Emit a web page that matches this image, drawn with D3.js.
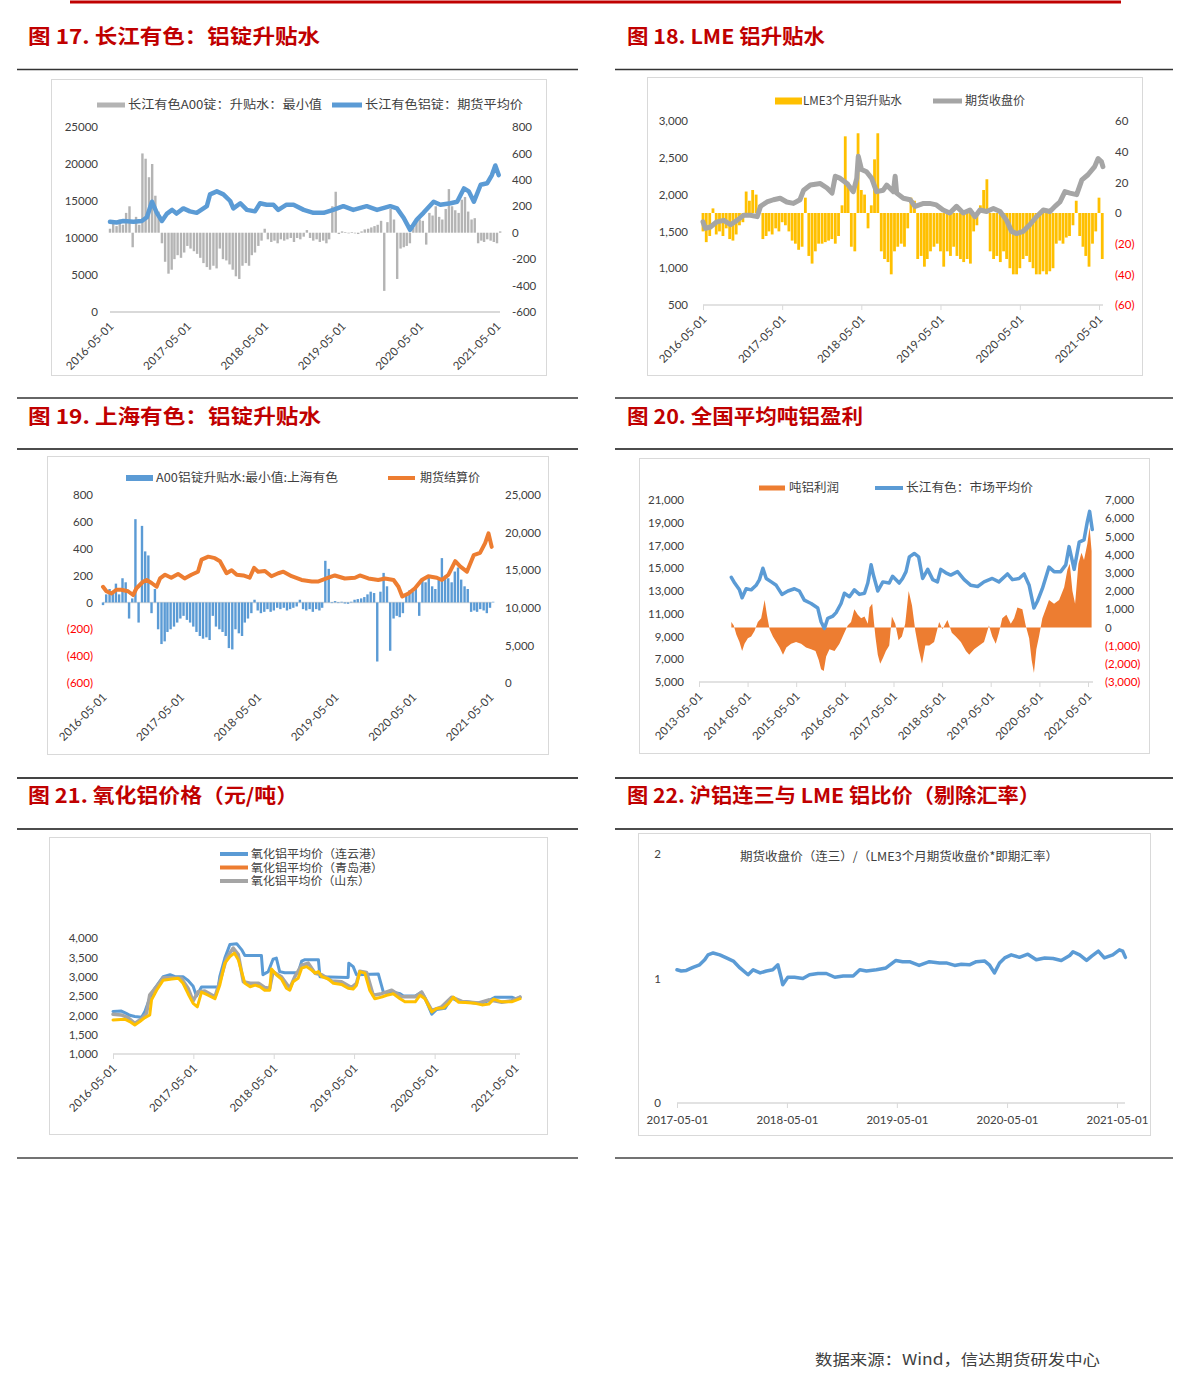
<!DOCTYPE html>
<html>
<head>
<meta charset="utf-8">
<script src="https://cdn.jsdelivr.net/npm/d3@7"></script>
<style>
  body { margin: 0; background: #fff; }
  svg { display: block; }
</style>
</head>
<body>
<svg id="page" width="1191" height="1390"></svg>
<script>
// ---------- data ----------

// 图17: 长江有色 A00 升贴水 (semi-monthly from 2016-05-01) and 期货平均价
const cjPremium17 = [30,80,50,100,60,150,200,-110,120,60,600,560,420,520,280,160,-80,-220,-310,-280,
  -200,-170,-190,-150,-100,-120,-140,-160,-190,-230,-260,-280,-250,-270,-120,-200,-210,-240,-280,-330,
  -350,-250,-230,-250,-170,-150,-100,-60,30,-50,-70,-60,-80,-50,-60,-50,-40,-70,-40,-50,
  -30,20,-40,-60,-50,-70,-60,-80,-50,200,310,-10,10,5,-5,5,-5,-10,10,25,
  30,40,50,60,90,-440,80,180,100,-350,-120,-110,-100,-80,40,80,100,90,-90,150,
  130,200,120,100,180,330,200,170,150,250,270,160,100,110,-80,-60,-70,-50,-60,-70,-80,10];
const cjFutures17 = [
  ["2016-05-01",12200],["2016-06-01",12100],["2016-07-03",12300],["2016-08-20",12200],["2016-09-28",12300],
  ["2016-10-22",12800],["2016-11-15",14900],["2016-12-08",13400],["2017-01-01",12300],["2017-01-25",13300],
  ["2017-02-18",13800],["2017-03-11",13300],["2017-04-12",14000],["2017-05-13",13600],["2017-06-14",13400],
  ["2017-08-01",14300],["2017-08-16",15900],["2017-09-17",16300],["2017-10-18",15900],["2017-11-19",15000],
  ["2017-12-04",14000],["2018-01-06",14700],["2018-02-06",13800],["2018-03-16",13600],["2018-04-09",14700],
  ["2018-05-10",14500],["2018-06-11",14500],["2018-07-04",13800],["2018-08-12",14500],["2018-09-14",14500],
  ["2018-11-01",13800],["2018-12-17",13400],["2019-02-03",13400],["2019-03-20",13800],["2019-05-07",14300],
  ["2019-06-23",13800],["2019-08-25",14300],["2019-10-13",13800],["2019-12-14",14300],["2020-01-15",14000],
  ["2020-02-16",12700],["2020-03-17",11100],["2020-04-18",12500],["2020-05-19",13400],["2020-07-06",14900],
  ["2020-08-07",14500],["2020-09-24",14700],["2020-10-25",14900],["2020-11-26",16700],["2020-12-19",16300],
  ["2021-01-12",14900],["2021-02-13",17200],["2021-03-16",17400],["2021-04-07",18500],["2021-04-23",19800],
  ["2021-05-09",18500]];

// 图18: LME3个月铝升贴水 (semi-monthly from 2016-05-01) and 期货收盘价
const lmePremium18 = [-12,-19,-15,3,-14,-12,-15,-10,-17,-18,-14,-8,-6,14,8,15,12,5,-17,-15,
  -12,-14,-10,-12,-6,-8,-12,-18,-20,-24,-22,10,-28,-33,-25,-20,-20,-19,-18,-17,
  -20,-15,5,50,20,-22,-25,52,15,12,-10,5,35,52,-25,-30,-32,-40,-25,-22,
  -20,-22,-10,10,8,-30,-28,-35,-30,-25,-22,-20,-25,-35,-25,-28,-22,-28,-30,-32,
  -30,-33,-12,-8,5,15,22,-25,-30,-28,-32,-25,-30,-36,-40,-40,-36,-30,-28,-32,
  -36,-40,-40,-38,-40,-38,-36,-20,-18,-20,-16,-15,-8,8,-15,-22,-28,-35,-20,-12,10,-30];
const lmeClose18 = [
  ["2016-05-01",1630],["2016-05-12",1540],["2016-06-04",1560],["2016-07-04",1630],["2016-08-05",1650],
  ["2016-09-05",1590],["2016-10-05",1650],["2016-11-05",1720],["2016-12-06",1720],["2017-01-06",1700],
  ["2017-01-21",1840],["2017-02-20",1900],["2017-03-22",1930],["2017-04-22",1950],["2017-05-22",1900],
  ["2017-06-22",1880],["2017-07-22",1930],["2017-08-08",2060],["2017-09-08",2130],["2017-10-24",2150],
  ["2017-11-24",2090],["2017-12-17",2020],["2018-01-01",2250],["2018-01-24",2220],["2018-02-24",2150],
  ["2018-03-25",2040],["2018-04-10",2220],["2018-04-17",2520],["2018-05-02",2340],["2018-05-25",2310],
  ["2018-06-18",2220],["2018-07-10",2040],["2018-08-10",2060],["2018-08-26",2130],["2018-09-26",2040],
  ["2018-10-04",2250],["2018-10-11",2020],["2018-11-11",1950],["2018-12-12",1930],["2019-01-04",1840],
  ["2019-02-12",1880],["2019-03-12",1880],["2019-04-12",1860],["2019-05-13",1790],["2019-06-13",1750],
  ["2019-07-14",1840],["2019-08-14",1750],["2019-09-14",1790],["2019-10-07",1700],["2019-10-30",1790],
  ["2019-11-30",1770],["2019-12-31",1810],["2020-01-31",1770],["2020-03-01",1650],["2020-03-24",1500],
  ["2020-04-16",1470],["2020-05-16",1500],["2020-06-16",1590],["2020-07-17",1700],["2020-08-17",1790],
  ["2020-09-17",1770],["2020-10-10",1840],["2020-11-02",1900],["2020-11-25",2040],["2020-12-18",2020],
  ["2021-01-18",2000],["2021-02-11",2200],["2021-03-11",2270],["2021-04-11",2380],["2021-04-27",2490],
  ["2021-05-12",2450],["2021-05-19",2380]];

// 图19: A00 升贴水 上海有色 (semi-monthly from 2016-05-01) and 期货结算价
const smmPremium19 = [-20,60,100,80,140,60,180,150,-120,30,620,-150,570,380,350,-80,100,-200,-310,-290,
  -220,-200,-180,-150,-120,-100,-130,-150,-180,-220,-250,-270,-260,-280,-100,-180,-200,-220,-250,-340,
  -350,-200,-230,-250,-150,-120,-80,20,-60,-80,-70,-50,-70,-60,-40,-50,-40,-60,-50,-40,
  -30,20,-50,-60,-50,-70,-50,-60,-40,310,250,-5,10,-5,5,-8,-10,5,20,25,
  30,40,60,80,70,-440,80,220,120,-360,-120,-100,-110,-80,50,90,80,100,-100,170,
  150,200,120,100,180,330,200,180,150,230,260,170,120,100,-70,-60,-70,-50,-60,-80,-40,5];
const shfeSettle19 = [
  ["2016-05-01",12800],["2016-05-17",12200],["2016-06-10",11900],["2016-07-03",12400],["2016-07-26",12400],
  ["2016-08-27",12200],["2016-09-20",11700],["2016-10-06",12600],["2016-11-07",13500],["2016-11-23",13700],
  ["2016-12-16",13300],["2017-01-09",12800],["2017-01-25",13900],["2017-02-18",14400],["2017-03-19",14000],
  ["2017-04-20",14500],["2017-05-21",13900],["2017-06-22",14400],["2017-07-23",14800],["2017-08-09",16400],
  ["2017-09-10",16800],["2017-10-11",16600],["2017-11-04",16200],["2017-12-05",14600],["2017-12-29",15000],
  ["2018-01-22",14400],["2018-02-22",14300],["2018-03-24",14000],["2018-04-14",15300],["2018-05-03",14800],
  ["2018-06-04",14900],["2018-07-05",14200],["2018-08-06",14600],["2018-08-30",14800],["2018-10-08",14200],
  ["2018-11-24",13700],["2019-01-11",13500],["2019-02-12",13500],["2019-03-21",13900],["2019-04-30",14300],
  ["2019-06-16",13900],["2019-08-03",14000],["2019-08-26",14300],["2019-10-05",13900],["2019-11-21",13700],
  ["2019-12-22",13900],["2020-02-01",13700],["2020-02-24",12800],["2020-03-13",11500],["2020-04-11",11900],
  ["2020-05-12",12600],["2020-06-13",13700],["2020-07-14",14200],["2020-08-23",14000],["2020-09-16",13700],
  ["2020-10-17",14400],["2020-11-18",16200],["2020-12-11",15500],["2021-01-12",14800],["2021-02-13",17000],
  ["2021-03-15",17300],["2021-04-08",18600],["2021-04-24",19900],["2021-05-09",18100]];

// 图20: 吨铝利润 and 长江有色市场平均价
const profit20 = [
  ["2013-12-30",300],["2014-01-17",100],["2014-02-06",-400],["2014-03-01",-800],["2014-03-21",-1300],
  ["2014-04-08",-900],["2014-05-03",-600],["2014-05-28",-500],["2014-06-22",-200],["2014-07-17",300],
  ["2014-08-11",500],["2014-09-06",1500],["2014-09-23",700],["2014-10-13",-100],["2014-11-07",-500],
  ["2014-12-02",-800],["2014-12-27",-1100],["2015-01-22",-1500],["2015-02-16",-1100],["2015-03-24",-900],
  ["2015-04-30",-800],["2015-06-07",-900],["2015-07-14",-1100],["2015-08-21",-1200],["2015-09-23",-1300],
  ["2015-10-18",-1800],["2015-11-04",-2300],["2015-11-24",-2400],["2015-12-12",-1600],["2016-01-06",-1200],
  ["2016-02-13",-1300],["2016-03-21",-900],["2016-04-27",-300],["2016-05-22",100],["2016-06-16",300],
  ["2016-07-11",1000],["2016-08-06",700],["2016-08-31",500],["2016-09-25",600],["2016-10-20",200],
  ["2016-11-02",1100],["2016-11-22",1300],["2016-12-01",600],["2016-12-16",-500],["2017-01-03",-1500],
  ["2017-01-21",-2000],["2017-02-10",-1700],["2017-03-05",-1300],["2017-03-30",-1000],["2017-04-19",600],
  ["2017-05-14",200],["2017-06-08",-700],["2017-07-03",-500],["2017-07-28",200],["2017-08-23",2000],
  ["2017-09-17",1200],["2017-10-12",-200],["2017-11-06",-1200],["2017-12-01",-2000],["2017-12-26",-1000],
  ["2018-01-25",-1000],["2018-03-02",-800],["2018-04-09",300],["2018-05-04",-100],["2018-06-10",400],
  ["2018-07-13",-300],["2018-08-12",-500],["2018-09-19",-800],["2018-10-27",-1300],["2018-11-21",-1500],
  ["2018-12-28",-1200],["2019-02-04",-1000],["2019-03-12",-800],["2019-04-18",100],["2019-05-13",-500],
  ["2019-06-08",-900],["2019-07-02",-300],["2019-07-27",500],["2019-08-27",700],["2019-09-29",200],
  ["2019-10-24",500],["2019-11-18",1100],["2019-12-25",1000],["2020-01-19",100],["2020-02-14",-600],
  ["2020-03-04",-1800],["2020-03-21",-2500],["2020-04-08",-1200],["2020-04-28",-500],["2020-05-23",500],
  ["2020-06-17",1000],["2020-07-12",1500],["2020-08-19",1300],["2020-09-26",1500],["2020-11-03",2200],
  ["2020-11-28",3200],["2020-12-15",3500],["2021-01-04",2000],["2021-01-24",1300],["2021-02-18",3500],
  ["2021-03-13",4100],["2021-04-01",3700],["2021-04-26",4600],["2021-05-13",5500],["2021-05-28",4200]];
const cjMarket20 = [
  ["2013-12-30",14200],["2014-01-24",13700],["2014-03-01",13100],["2014-03-21",12400],["2014-04-20",13200],
  ["2014-05-28",13100],["2014-07-04",13500],["2014-07-29",14000],["2014-08-24",15000],["2014-09-18",14100],
  ["2014-10-26",13800],["2014-12-02",13500],["2015-01-14",12700],["2015-02-28",13000],["2015-04-18",13200],
  ["2015-05-25",13000],["2015-07-01",12200],["2015-08-21",11900],["2015-10-10",11500],["2015-11-04",10300],
  ["2015-11-29",9700],["2015-12-24",10600],["2016-02-01",10800],["2016-02-25",11100],["2016-04-02",11900],
  ["2016-04-27",12800],["2016-06-04",12500],["2016-07-11",13100],["2016-08-18",12700],["2016-09-25",12800],
  ["2016-10-20",13700],["2016-11-14",15300],["2016-12-01",14400],["2017-01-03",13000],["2017-02-10",13800],
  ["2017-03-30",13700],["2017-04-24",14300],["2017-06-13",13700],["2017-07-08",14100],["2017-08-03",14700],
  ["2017-08-28",16000],["2017-10-04",16300],["2017-11-06",16000],["2017-12-06",14100],["2018-01-13",14900],
  ["2018-02-20",14000],["2018-03-27",13800],["2018-04-21",14900],["2018-05-29",14600],["2018-07-05",14400],
  ["2018-08-25",14700],["2018-10-14",14000],["2018-12-03",13500],["2019-01-23",13400],["2019-03-12",13800],
  ["2019-05-13",14100],["2019-07-02",13800],["2019-09-04",14500],["2019-10-11",14000],["2019-11-30",14100],
  ["2020-01-07",14500],["2020-02-14",13500],["2020-03-21",11500],["2020-04-16",12100],["2020-05-23",13200],
  ["2020-07-12",15100],["2020-08-19",14700],["2020-10-08",14700],["2020-11-15",15300],["2020-12-10",16900],
  ["2021-01-17",14900],["2021-02-24",17300],["2021-04-01",17500],["2021-04-26",19100],["2021-05-13",20000],
  ["2021-06-02",18400]];

// 图21: 氧化铝平均价
const aluminaLyg21 = [
  ["2016-05-01",2100],["2016-06-08",2110],["2016-06-30",2050],["2016-07-16",2000],["2016-08-08",1970],
  ["2016-09-08",1950],["2016-09-23",2100],["2016-10-15",2450],["2016-11-07",2700],["2016-12-15",3000],
  ["2017-01-15",3050],["2017-02-07",3000],["2017-03-15",3000],["2017-04-07",2900],["2017-04-30",2750],
  ["2017-05-15",2500],["2017-06-07",2730],["2017-08-22",2730],["2017-08-29",3000],["2017-09-21",3480],
  ["2017-10-14",3830],["2017-11-14",3850],["2017-12-06",3700],["2017-12-21",3550],["2018-03-06",3550],
  ["2018-03-13",3050],["2018-04-06",3130],["2018-04-28",3450],["2018-05-13",3480],["2018-05-28",3130],
  ["2018-06-20",3100],["2018-08-20",3100],["2018-09-05",3400],["2018-09-20",3440],["2018-11-20",3440],
  ["2018-11-27",3000],["2019-04-04",2980],["2019-04-07",3350],["2019-04-27",3260],["2019-05-12",3050],
  ["2019-08-19",3070],["2019-09-11",2600],["2019-10-03",2560],["2019-10-26",2600],["2019-11-26",2560],
  ["2019-12-11",2500],["2020-02-03",2500],["2020-03-03",2600],["2020-03-18",2450],["2020-04-18",2030],
  ["2020-05-10",2150],["2020-06-17",2180],["2020-07-17",2450],["2020-08-17",2360],["2020-09-17",2360],
  ["2020-11-01",2320],["2020-12-02",2320],["2021-01-02",2380],["2021-02-01",2470],["2021-04-16",2470],
  ["2021-05-09",2420],["2021-05-24",2470]];
const aluminaQd21 = [
  ["2016-05-01",1880],["2016-06-23",1900],["2016-07-16",1840],["2016-08-08",1750],["2016-08-31",1840],
  ["2016-09-23",1940],["2016-10-15",2010],["2016-10-23",2400],["2016-11-15",2650],["2016-12-15",2910],
  ["2017-01-23",2940],["2017-02-22",2960],["2017-03-15",2830],["2017-04-07",2560],["2017-04-30",2310],
  ["2017-05-19",2220],["2017-06-07",2600],["2017-07-07",2520],["2017-08-07",2430],["2017-08-29",2780],
  ["2017-09-21",3350],["2017-10-14",3520],["2017-11-03",3610],["2017-11-21",3440],["2017-12-06",3130],
  ["2017-12-21",2830],["2018-01-14",2740],["2018-02-06",2780],["2018-02-28",2740],["2018-03-21",2650],
  ["2018-04-13",2650],["2018-04-21",3200],["2018-05-13",3050],["2018-06-05",2940],["2018-06-28",2700],
  ["2018-07-13",2650],["2018-07-28",2870],["2018-08-20",2960],["2018-09-05",3220],["2018-09-27",3260],
  ["2018-10-20",3170],["2018-11-05",3090],["2018-11-20",3130],["2018-12-05",3000],["2019-01-04",2940],
  ["2019-01-27",2830],["2019-03-05",2800],["2019-04-04",2700],["2019-04-27",2680],["2019-05-12",2780],
  ["2019-05-27",3130],["2019-06-19",3090],["2019-07-11",2650],["2019-08-03",2430],["2019-09-03",2470],
  ["2019-09-26",2520],["2019-10-26",2560],["2019-11-26",2430],["2019-12-18",2350],["2020-02-03",2350],
  ["2020-02-25",2520],["2020-03-18",2430],["2020-04-18",2090],["2020-05-10",2180],["2020-06-10",2190],
  ["2020-07-02",2300],["2020-07-25",2470],["2020-08-17",2340],["2020-09-17",2330],["2020-11-01",2310],
  ["2020-12-02",2270],["2021-01-02",2290],["2021-01-24",2420],["2021-03-02",2350],["2021-04-16",2350],
  ["2021-05-24",2430]];
const aluminaSd21 = [
  ["2016-05-01",2030],["2016-06-08",2010],["2016-07-08",1940],["2016-08-08",1790],["2016-09-08",1910],
  ["2016-09-30",2050],["2016-10-15",2530],["2016-11-15",2740],["2016-12-15",2970],["2017-01-23",2970],
  ["2017-03-07",2960],["2017-04-07",2700],["2017-04-30",2370],["2017-05-22",2610],["2017-06-22",2630],
  ["2017-08-07",2480],["2017-08-29",2870],["2017-09-29",3480],["2017-10-29",3740],["2017-11-21",3570],
  ["2017-12-14",2870],["2018-01-14",2830],["2018-02-21",2830],["2018-03-21",2720],["2018-04-13",2700],
  ["2018-04-28",3130],["2018-06-05",3000],["2018-07-13",2700],["2018-08-05",3000],["2018-09-05",3300],
  ["2018-10-05",3350],["2018-11-05",3090],["2018-12-05",3050],["2019-01-20",2890],["2019-03-05",2870],
  ["2019-04-19",2720],["2019-05-12",2830],["2019-05-27",3140],["2019-06-27",3110],["2019-07-27",2520],
  ["2019-09-03",2560],["2019-10-19",2650],["2019-12-03",2480],["2020-02-03",2480],["2020-03-03",2600],
  ["2020-04-18",2130],["2020-06-02",2220],["2020-07-17",2470],["2020-09-02",2360],["2020-11-17",2320],
  ["2021-01-02",2400],["2021-03-02",2340],["2021-04-16",2380],["2021-05-24",2470]];

// 图22: 沪铝连三 / (LME3个月 * 即期汇率)
const ratio22 = [
  ["2017-05-01",1.07],["2017-05-15",1.06],["2017-06-01",1.065],["2017-06-23",1.09],["2017-07-15",1.11],
  ["2017-08-01",1.15],["2017-08-12",1.19],["2017-08-29",1.205],["2017-09-20",1.19],["2017-10-12",1.165],
  ["2017-11-04",1.14],["2017-11-26",1.085],["2017-12-23",1.03],["2018-01-09",1.07],["2018-02-01",1.045],
  ["2018-02-22",1.06],["2018-03-15",1.07],["2018-04-01",1.11],["2018-04-12",1.005],["2018-04-17",0.95],
  ["2018-05-04",1.01],["2018-05-26",1.01],["2018-06-23",1.0],["2018-07-15",1.03],["2018-08-12",1.04],
  ["2018-09-09",1.04],["2018-10-07",1.01],["2018-11-04",1.02],["2018-12-07",1.02],["2018-12-29",1.07],
  ["2019-01-20",1.06],["2019-02-22",1.07],["2019-03-26",1.085],["2019-04-28",1.145],["2019-05-20",1.135],
  ["2019-06-12",1.135],["2019-07-14",1.105],["2019-08-17",1.135],["2019-09-20",1.125],["2019-10-12",1.125],
  ["2019-11-09",1.105],["2019-12-01",1.115],["2019-12-28",1.11],["2020-01-20",1.135],["2020-02-17",1.14],
  ["2020-03-03",1.11],["2020-03-20",1.045],["2020-04-06",1.125],["2020-04-23",1.165],["2020-05-15",1.19],
  ["2020-06-11",1.17],["2020-07-09",1.195],["2020-08-06",1.15],["2020-09-03",1.165],["2020-10-01",1.16],
  ["2020-10-28",1.145],["2020-11-25",1.185],["2020-12-06",1.215],["2020-12-28",1.19],["2021-01-20",1.145],
  ["2021-02-06",1.18],["2021-02-28",1.22],["2021-03-20",1.165],["2021-04-17",1.19],["2021-05-09",1.23],
  ["2021-05-20",1.22],["2021-05-29",1.17]];

// tick labels
const ticks16 = ["2016-05-01","2017-05-01","2018-05-01","2019-05-01","2020-05-01","2021-05-01"];
const ticks13 = ["2013-05-01","2014-05-01","2015-05-01","2016-05-01","2017-05-01","2018-05-01","2019-05-01","2020-05-01","2021-05-01"];
const ticks17 = ["2017-05-01","2018-05-01","2019-05-01","2020-05-01","2021-05-01"];
const left17 = [0,5000,10000,15000,20000,25000];
const right17 = [-600,-400,-200,0,200,400,600,800];
const left18 = [500,1000,1500,2000,2500,3000];
const right18 = [-60,-40,-20,0,20,40,60];
const left19 = [-600,-400,-200,0,200,400,600,800];
const right19 = [0,5000,10000,15000,20000,25000];
const left20 = [5000,7000,9000,11000,13000,15000,17000,19000,21000];
const right20 = [-3000,-2000,-1000,0,1000,2000,3000,4000,5000,6000,7000];
const left21 = [1000,1500,2000,2500,3000,3500,4000];
const left22 = [0,1,2];
const legend21 = ["氧化铝平均价（连云港）", "氧化铝平均价（青岛港）", "氧化铝平均价（山东）"];

// ---------- helpers ----------
const svg = d3.select("#page");
const FONT_NUM = "Lato, 'Open Sans', sans-serif";
const FONT_CJK = "'Noto Sans CJK SC', sans-serif";
const TXT = "#404040";
const BLUE = "#5b9bd5", ORANGE = "#ed7d31", GRAY = "#a5a5a5", YELLOW = "#ffc000";

const parse = d3.timeParse("%Y-%m-%d");
const fmtDate = d3.timeFormat("%Y-%m-%d");
const toPoints = arr => arr.map(([d, v]) => ({ date: parse(d), value: v }));
const start16 = parse("2016-05-01");
// semi-monthly dates (1st and 16th) used by the bar series
const halfMonths = n => d3.range(n).map(i =>
  d3.timeDay.offset(d3.timeMonth.offset(start16, Math.floor(i / 2)), (i % 2) * 15));
const fmtPlain = v => String(v);   // Excel style: plain hyphen for negatives
const fmtComma = d3.format(",");
const fmtParen = v => v < 0 ? `(${fmtComma(-v)})` : fmtComma(v);

function hline(x0, x1, y, color, w) {
  svg.append("line").attr("x1", x0).attr("x2", x1).attr("y1", y).attr("y2", y)
    .attr("stroke", color).attr("stroke-width", w);
}

function frame(x0, y0, x1, y1) {
  svg.append("rect").attr("x", x0 + 0.5).attr("y", y0 + 0.5)
    .attr("width", x1 - x0).attr("height", y1 - y0)
    .attr("fill", "none").attr("stroke", "#d9d9d9");
}

function title(x, y, text, len) {
  svg.append("text").attr("x", x).attr("y", y)
    .attr("font-family", FONT_CJK).attr("font-weight", 700).attr("font-size", 20)
    .attr("fill", "#c00000").attr("textLength", len).attr("lengthAdjust", "spacingAndGlyphs")
    .text(text);
}

function label(x, y, text, len, size = 12, anchor = "start") {
  svg.append("text").attr("x", x).attr("y", y).attr("dy", "0.36em")
    .attr("font-family", FONT_CJK).attr("font-size", size).attr("fill", TXT)
    .attr("text-anchor", anchor)
    .attr("textLength", len).attr("lengthAdjust", "spacingAndGlyphs").text(text);
}

function swatch(kind, x0, x1, y, color, thick) {
  if (kind === "rect") {
    svg.append("rect").attr("x", x0).attr("y", y - thick / 2).attr("width", x1 - x0)
      .attr("height", thick).attr("fill", color);
  } else {
    hline(x0, x1, y, color, thick);
  }
}

function yLabels(scale, values, xPos, side, fmt, redNeg) {
  const axis = side === "left" ? d3.axisLeft(scale) : d3.axisRight(scale);
  const g = svg.append("g").attr("transform", `translate(${xPos},0)`)
    .call(axis.tickValues(values).tickFormat(fmt).tickSize(0).tickPadding(0));
  g.select(".domain").remove();
  g.attr("font-family", FONT_NUM).attr("font-size", 11.5);
  g.selectAll("text").attr("fill", d => redNeg && d < 0 ? "#ff0000" : TXT);
}

function xAxisRotated(x, tickDates, axisY, lineEnd, tickLen, lineW = 1) {
  if (lineW > 0) hline(x.range()[0], lineEnd, axisY, "#d9d9d9", lineW);
  const g = svg.append("g").attr("transform", `translate(0,${axisY})`)
    .call(d3.axisBottom(x).tickValues(tickDates.map(parse)).tickFormat(fmtDate)
      .tickSize(tickLen).tickSizeOuter(0));
  g.select(".domain").remove();
  g.attr("font-family", FONT_NUM).attr("font-size", 11.5);
  g.selectAll(".tick line").attr("stroke", "#d9d9d9");
  g.selectAll(".tick text").attr("x", 0).attr("y", 0).attr("dy", 0)
    .attr("text-anchor", "end").attr("fill", TXT)
    .attr("transform", "translate(4,15) rotate(-45)");
}

function drawBars(dates, values, x, y, color, w) {
  const rows = values.map((v, i) => ({ date: dates[i], value: v }));
  svg.append("g").selectAll("rect").data(rows).join("rect")
    .attr("x", d => x(d.date) - w / 2).attr("width", w)
    .attr("y", d => Math.min(y(0), y(d.value)))
    .attr("height", d => Math.abs(y(d.value) - y(0)))
    .attr("fill", color);
}

function drawLine(points, x, y, color, width) {
  svg.append("path").datum(points)
    .attr("fill", "none").attr("stroke", color).attr("stroke-width", width)
    .attr("stroke-linejoin", "round").attr("stroke-linecap", "round")
    .attr("d", d3.line().x(d => x(d.date)).y(d => y(d.value)));
}

// ---------- page furniture ----------
hline(70, 1121, 2, "#c00000", 3);
[[17, 578], [615, 1173]].forEach(([a, b]) => {
  hline(a, b, 69.5, "#333", 1.3);
  hline(a, b, 398, "#666", 2);
  hline(a, b, 449, "#111", 1.5);
  hline(a, b, 778, "#444", 1.8);
  hline(a, b, 829, "#111", 1.5);
  hline(a, b, 1158, "#444", 1.5);
});
title(28, 43.5, "图 17. 长江有色：铝锭升贴水", 292);
title(627, 43.5, "图 18. LME 铝升贴水", 198);
title(28, 423.5, "图 19. 上海有色：铝锭升贴水", 293);
title(627, 423.5, "图 20. 全国平均吨铝盈利", 236);
title(28, 802.5, "图 21. 氧化铝价格（元/吨）", 270);
title(627, 802.5, "图 22. 沪铝连三与 LME 铝比价（剔除汇率）", 413);
label(815, 1360, "数据来源：Wind，信达期货研发中心", 285, 15);

// ---------- 图17 ----------
{
  frame(51, 79, 546, 375);
  const x = d3.scaleTime().domain([parse("2016-05-01"), parse("2021-05-01")]).range([110, 497]);
  const yL = d3.scaleLinear().domain([0, 25000]).range([312, 127]);
  const yR = d3.scaleLinear().domain([-600, 800]).range([312, 127]);
  xAxisRotated(x, ticks16, 312, 500, 0, 2);
  drawBars(halfMonths(cjPremium17.length), cjPremium17, x, yR, "#b4b4b4", 2.4);
  drawLine(toPoints(cjFutures17), x, yL, BLUE, 4.5);
  yLabels(yL, left17, 98, "left", fmtPlain, false);
  yLabels(yR, right17, 512, "right", fmtPlain, false);
  swatch("rect", 97, 125, 105, "#b4b4b4", 5);
  label(128, 105, "长江有色A00锭：升贴水：最小值", 194);
  swatch("line", 332, 362, 105, BLUE, 5);
  label(365, 105, "长江有色铝锭：期货平均价", 158);
}

// ---------- 图18 ----------
{
  frame(647, 77, 1142, 375);
  const x = d3.scaleTime().domain([parse("2016-05-01"), parse("2021-05-01")]).range([703, 1099]);
  const yL = d3.scaleLinear().domain([500, 3000]).range([305, 121]);
  const yR = d3.scaleLinear().domain([-60, 60]).range([305, 121]);
  xAxisRotated(x, ticks16, 305, 1103, 5, 1.5);
  drawBars(halfMonths(lmePremium18.length), lmePremium18, x, yR, YELLOW, 2.8);
  drawLine(toPoints(lmeClose18), x, yL, GRAY, 5);
  yLabels(yL, left18, 688, "left", fmtComma, false);
  yLabels(yR, right18, 1115, "right", fmtParen, true);
  swatch("rect", 775, 802, 101, YELLOW, 7);
  label(803, 101, "LME3个月铝升贴水", 99);
  swatch("line", 933, 962, 101, GRAY, 5);
  label(965, 101, "期货收盘价", 60);
}

// ---------- 图19 ----------
{
  frame(47, 456, 548, 754);
  const x = d3.scaleTime().domain([parse("2016-05-01"), parse("2021-05-01")]).range([103, 490]);
  const yL = d3.scaleLinear().domain([-600, 800]).range([683, 495]);
  const yR = d3.scaleLinear().domain([0, 25000]).range([683, 495]);
  hline(103, 492, yL(0), "#d9d9d9", 1.5);
  xAxisRotated(x, ticks16, 683, 103, 0, 0);
  drawBars(halfMonths(smmPremium19.length), smmPremium19, x, yL, BLUE, 2.4);
  drawLine(toPoints(shfeSettle19), x, yR, ORANGE, 4);
  yLabels(yL, left19, 93, "left", fmtParen, true);
  yLabels(yR, right19, 505, "right", fmtComma, false);
  swatch("rect", 126, 153, 478, BLUE, 6);
  label(156, 478, "A00铝锭升贴水:最小值:上海有色", 182);
  swatch("line", 388, 415, 478, ORANGE, 4);
  label(420, 478, "期货结算价", 60);
}

// ---------- 图20 ----------
{
  frame(639, 458, 1149, 753);
  const x = d3.scaleTime().domain([parse("2013-05-01"), parse("2021-05-01")]).range([699, 1088]);
  const yL = d3.scaleLinear().domain([5000, 21000]).range([682, 500]);
  const yR = d3.scaleLinear().domain([-3000, 7000]).range([682, 500]);
  xAxisRotated(x, ticks13, 682, 1093, 5, 1.5);
  svg.append("path").datum(toPoints(profit20)).attr("fill", ORANGE)
    .attr("d", d3.area().x(d => x(d.date)).y0(yR(0)).y1(d => yR(d.value)));
  drawLine(toPoints(cjMarket20), x, yL, BLUE, 3.5);
  yLabels(yL, left20, 684, "left", fmtComma, false);
  yLabels(yR, right20, 1105, "right", fmtParen, true);
  swatch("rect", 759, 785, 488, ORANGE, 5);
  label(789, 488, "吨铝利润", 50);
  swatch("line", 875, 903, 488, BLUE, 4);
  label(906, 488, "长江有色：市场平均价", 127);
}

// ---------- 图21 ----------
{
  frame(49, 837, 547, 1134);
  const x = d3.scaleTime().domain([parse("2016-05-01"), parse("2021-05-01")]).range([113, 515]);
  const y = d3.scaleLinear().domain([1000, 4000]).range([1054, 938]);
  xAxisRotated(x, ticks16, 1054, 520, 5, 1.5);
  drawLine(toPoints(aluminaLyg21), x, y, BLUE, 3);
  drawLine(toPoints(aluminaSd21), x, y, GRAY, 3.5);
  drawLine(toPoints(aluminaQd21), x, y, YELLOW, 3);
  yLabels(y, left21, 98, "left", fmtComma, false);
  const rowsY = [854, 867.5, 881];
  [BLUE, ORANGE, GRAY].forEach((c, i) => swatch("line", 220, 248, rowsY[i], c, 4));
  // stacked legend rows kept in one text block, as in the source
  svg.append("text").attr("font-family", FONT_CJK).attr("font-size", 11.5).attr("fill", TXT)
    .selectAll("tspan").data(legend21).join("tspan")
    .attr("x", 251).attr("y", (d, i) => rowsY[i]).attr("dy", "0.36em")
    .attr("textLength", (d, i) => i === 2 ? 119 : 132).attr("lengthAdjust", "spacingAndGlyphs")
    .text(d => d);
}

// ---------- 图22 ----------
{
  frame(638, 833, 1150, 1135);
  const x = d3.scaleTime().domain([parse("2017-05-01"), parse("2021-05-01")]).range([677, 1117]);
  const y = d3.scaleLinear().domain([0, 2]).range([1103, 854]);
  hline(677, 1125, 1103, "#d9d9d9", 1.5);
  const g = svg.append("g").attr("transform", "translate(0,1103)")
    .call(d3.axisBottom(x).tickValues(ticks17.map(parse)).tickFormat(fmtDate)
      .tickSize(5).tickPadding(8).tickSizeOuter(0));
  g.select(".domain").remove();
  g.attr("font-family", FONT_NUM).attr("font-size", 11.5);
  g.selectAll(".tick line").attr("stroke", "#d9d9d9");
  g.selectAll(".tick text").attr("fill", TXT);
  drawLine(toPoints(ratio22), x, y, BLUE, 3.5);
  yLabels(y, left22, 661, "left", fmtPlain, false);
  label(740, 857, "期货收盘价（连三）/（LME3个月期货收盘价*即期汇率）", 318);
}
</script>
</body>
</html>
